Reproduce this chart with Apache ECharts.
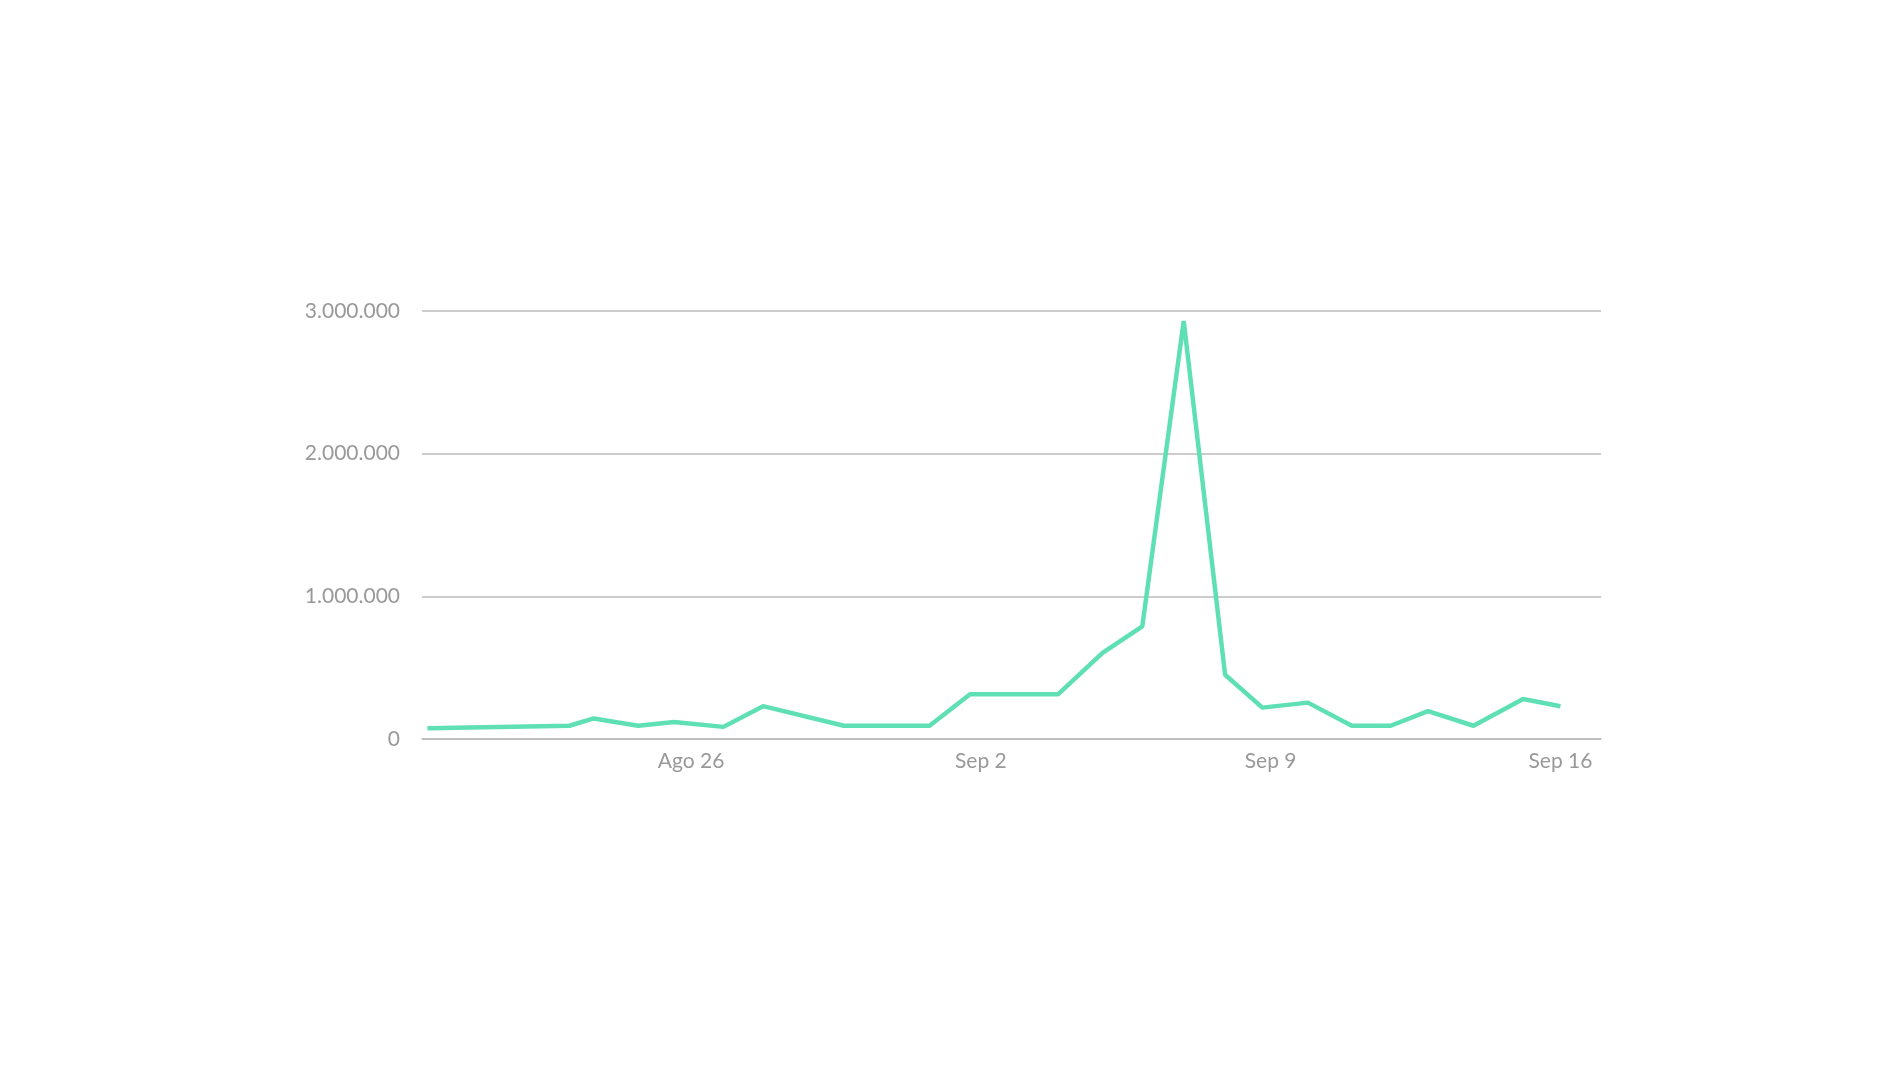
<!DOCTYPE html>
<html><head><meta charset="utf-8">
<script src="https://cdn.jsdelivr.net/npm/echarts@6/dist/echarts.min.js"></script>
<style>html,body{margin:0;background:#fff}#c{width:1900px;height:1069px}</style>
</head><body><div id="c"></div>
<script>
// x = days relative to Ago 26
const dayOffsets = [-6.37,-2.94,-2.35,-1.28,-0.41,0.78,1.74,3.69,5.76,6.74,8.87,9.94,10.9,11.9,12.9,13.8,14.9,15.96,16.9,17.8,18.9,20.1,21.0];
const values = [76000,93000,144000,93000,119000,85000,230000,93000,93000,314000,314000,603000,790000,2930000,450000,220000,255000,93000,93000,195000,93000,280000,230000];
const tickPositions = [0,7,14,21];
const tickLabels = ['Ago 26','Sep 2','Sep 9','Sep 16'];
const chart = echarts.init(document.getElementById('c'));
chart.setOption({
  animation:false,
  grid:{left:422,right:299,top:311,bottom:330},
  xAxis:{type:'value',min:-6.5,max:21.98,
    axisLine:{show:true,lineStyle:{color:'#bbb',width:1.5}},
    axisTick:{show:false},splitLine:{show:false},
    axisLabel:{customValues:tickPositions,color:'#999',fontSize:21,fontFamily:'Lato',margin:12,
      formatter:v=>tickLabels[tickPositions.indexOf(Math.round(v))]||''}},
  yAxis:{type:'value',min:0,max:3000000,interval:1000000,
    axisLine:{show:false},axisTick:{show:false},
    splitLine:{lineStyle:{color:'#bbb',width:1.5}},
    axisLabel:{color:'#999',fontSize:21,fontFamily:'Lato',margin:22,
      formatter:v=>v.toString().replace(/\B(?=(\d{3})+(?!\d))/g,'.')}},
  series:[{type:'line',data:dayOffsets.map((d,i)=>[d,values[i]]),showSymbol:false,
    lineStyle:{color:'#5fe0b4',width:4.5},itemStyle:{color:'#5fe0b4'}}]
});
</script></body></html>
